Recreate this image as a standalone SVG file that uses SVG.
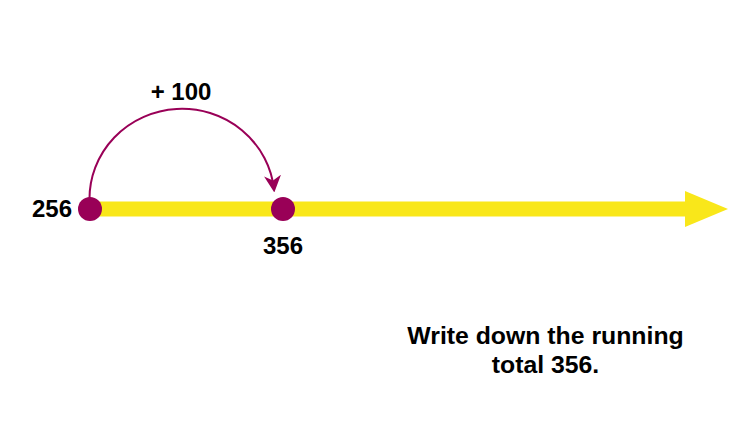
<svg xmlns="http://www.w3.org/2000/svg" width="750" height="428" viewBox="0 0 750 428">
<style>
  text { font-family: "Liberation Sans", Arial, sans-serif; font-weight: bold; font-size: 24px; fill: #000; }
  .caption { font-size: 24.8px; }
  .pt { fill: #990057; }
  .jump { fill: none; stroke: #990057; stroke-width: 2; }
</style>
<defs>
  <marker id="ah" markerWidth="17" markerHeight="17" refX="14" refY="8.5" orient="auto" markerUnits="userSpaceOnUse">
    <path d="M0,0 L17,8.5 L0,17 L5,8.5 Z" fill="#990057"/>
  </marker>
</defs>
<rect width="750" height="428" fill="#fff"/>
<g id="numberline">
  <rect x="90" y="201.5" width="598" height="15" fill="#f9e71a"/>
  <polygon points="685,191 728,209 685,227" fill="#f9e71a"/>
</g>
<g id="connectors">
  <path class="jump" d="M 89.5 200 A 92.5 90 0 0 1 274 189.5" marker-end="url(#ah)"/>
</g>
<g id="node-256">
  <circle class="pt" cx="90" cy="209" r="12"/>
  <text x="72" y="217" text-anchor="end">256</text>
</g>
<g id="node-356">
  <circle class="pt" cx="283" cy="209" r="12"/>
  <text x="283" y="254" text-anchor="middle">356</text>
</g>
<g id="label-jump">
  <text x="181" y="100" text-anchor="middle">+ 100</text>
</g>
<g id="caption">
  <text class="caption" x="545.5" y="343.5" text-anchor="middle">Write down the running</text>
  <text class="caption" x="545.5" y="373" text-anchor="middle">total 356.</text>
</g>
</svg>
